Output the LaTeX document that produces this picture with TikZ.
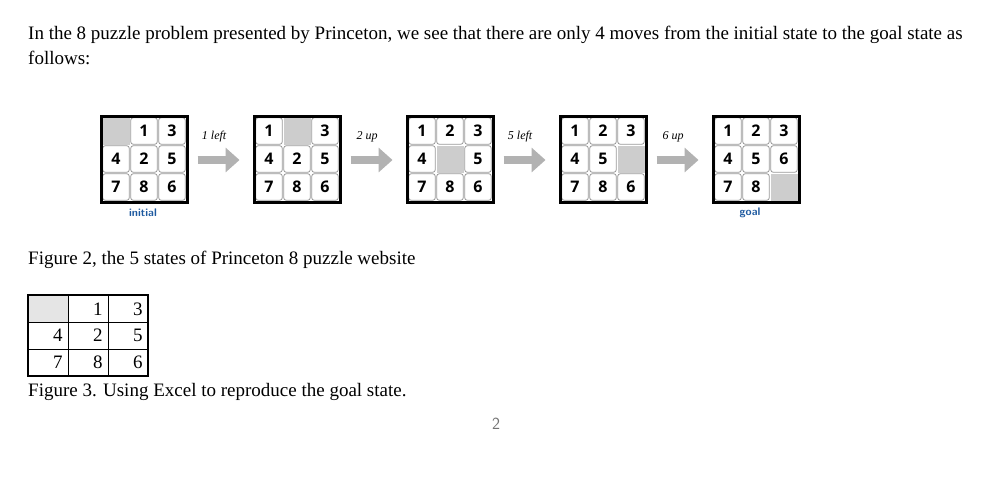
\documentclass[tikz,border=0pt]{standalone}
\usepackage{fontspec}
\setmainfont{Liberation Serif}
\newfontfamily\tilefont{Open Sans}
\usetikzlibrary{arrows.meta,calc}
\definecolor{blank}{RGB}{205,205,205}
\definecolor{lblue}{RGB}{30,90,160}
\tikzset{
 tile/.style={draw=gray!80,line width=0.8pt,rounded corners=2.5pt,fill=white,minimum size=26.5pt,inner sep=0pt,font=\tilefont\bfseries\fontsize{16}{16}\selectfont},
 blanktile/.style={fill=blank,draw=none,minimum size=27pt,inner sep=0pt},
 frame/.style={draw=black,line width=3pt},
 mv/.style={-{Triangle[length=14pt,width=24pt]},line width=8pt,draw=gray!60},
 mvlab/.style={font=\itshape\fontsize{12}{12}\selectfont},
 body/.style={font=\fontsize{19}{22}\selectfont,anchor=base west,inner sep=0pt},
 xl/.style={draw=black,line width=0.8pt,minimum width=40pt,minimum height=26.7pt,inner sep=5pt,font=\fontsize{19}{20}\selectfont,align=right,text width=29pt}
}
\newcommand{\puzzle}[3]{% #1 x, #2 name, #3 list of 9
 \begin{scope}[shift={(#1,159)}]
 \foreach \v [count=\i from 0] in {#3} {
   \pgfmathtruncatemacro{\r}{int(\i/3)}
   \pgfmathtruncatemacro{\c}{mod(\i,3)}
   \ifnum\v=0
     \node[blanktile] (#2-\i) at ({(\c-1)*28},{(\r-1)*28}) {};
   \else
     \node[tile] (#2-\i) at ({(\c-1)*28},{(\r-1)*28}) {\v};
   \fi
 }
 \node[frame,minimum size=86pt,inner sep=0pt] (#2) at (0,0) {};
 \end{scope}}
\begin{document}
\begin{tikzpicture}[x=1pt,y=-1pt]
\useasboundingbox[fill=white] (0,0) rectangle (1000,480);
\node[body] (l1) at (28,39) {In the 8 puzzle problem presented by Princeton, we see that there are only 4 moves from the initial state to the goal state as};
\node[body] (l2) at (28,64) {follows:};
\puzzle{144}{p1}{0,1,3,4,2,5,7,8,6}
\puzzle{297}{p2}{1,0,3,4,2,5,7,8,6}
\puzzle{450}{p3}{1,2,3,4,0,5,7,8,6}
\puzzle{603}{p4}{1,2,3,4,5,0,7,8,6}
\puzzle{756}{p5}{1,2,3,4,5,6,7,8,0}
\foreach \a/\b/\t in {p1/p2/1 left,p2/p3/2 up,p3/p4/5 left,p4/p5/6 up}{
  \draw[mv] ([xshift=9pt,yshift=-1pt]\a.east) -- ([xshift=-13pt,yshift=-1pt]\b.west);
  \node[mvlab] at ($(\a.east)!0.4!(\b.west)+(0,-22)$) {\t};
}
\node[font=\sffamily\bfseries\fontsize{11}{11}\selectfont,text=lblue] (ini) at (143,213) {initial};
\node[font=\sffamily\bfseries\fontsize{11}{11}\selectfont,text=lblue] (goal) at (750,213) {goal};
\node[body] (f2) at (28,264) {Figure 2, the 5 states of Princeton 8 puzzle website};
\foreach \v [count=\i from 0] in {{},1,3,4,2,5,7,8,6}{
  \pgfmathtruncatemacro{\r}{int(\i/3)}
  \pgfmathtruncatemacro{\c}{mod(\i,3)}
  \node[xl] (x\i) at ({48+\c*40},{309+\r*26.7}) {\v};
}
\fill[gray!20] ([shift={(0.6,0.6)}]x0.north west) rectangle ([shift={(-0.6,-0.6)}]x0.south east);
\draw[line width=2pt] (x0.north west) rectangle (x8.south east);
\node[body] (f3) at (28,396) {Figure 3. Using Excel to reproduce the goal state.};
\node[font=\sffamily\fontsize{17}{17}\selectfont,text=gray!90!black] (pg) at (496,424) {2};
\end{tikzpicture}
\end{document}
